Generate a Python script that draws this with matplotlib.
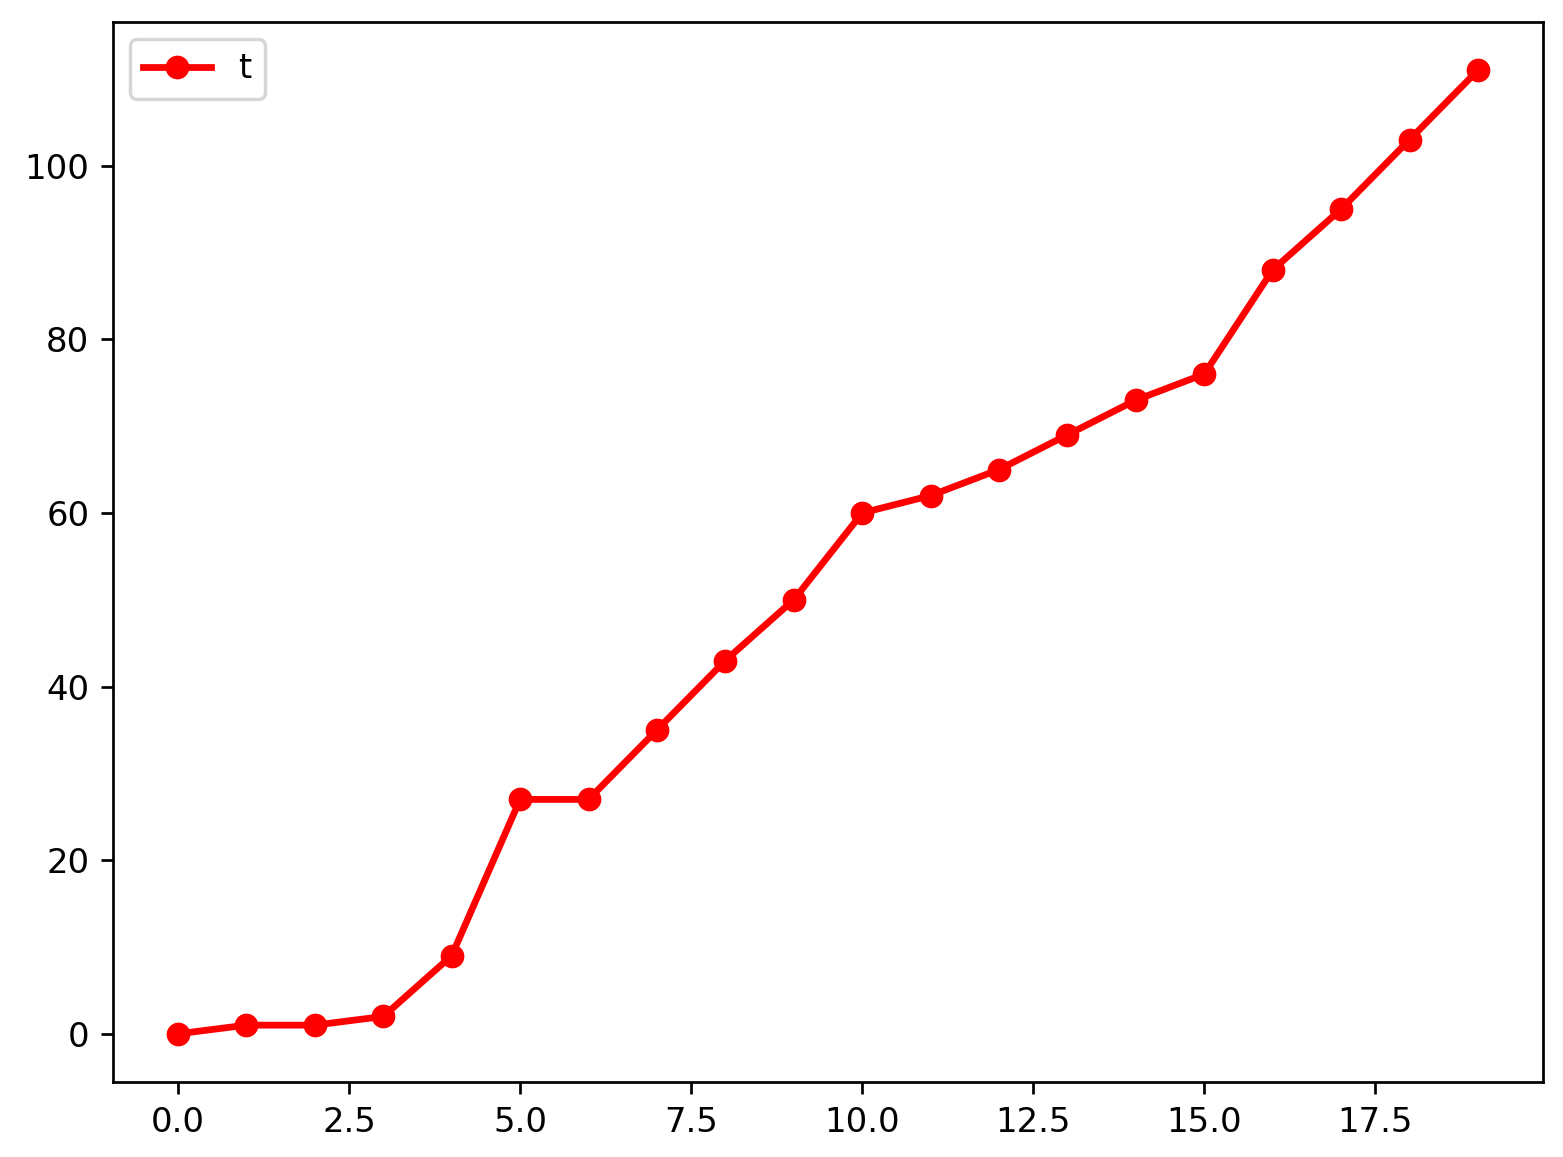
import matplotlib
matplotlib.use('Agg')
import matplotlib.pyplot as plt

x_vals = list(range(20))
t_vals = [0, 1, 1, 2, 9, 27, 27, 35, 43, 50, 60, 62, 65, 69, 73, 76, 88, 95, 103, 111]

fig = plt.figure(figsize=(1563 / 244, 1157 / 244), dpi=244)
ax = fig.add_axes([113 / 1563, 1 - 1082 / 1157, (1543 - 113) / 1563, (1082 - 22) / 1157])
ax.plot(x_vals, t_vals, color='red', marker='o', linewidth=2, label='t')
ax.legend(loc='upper left')
fig.savefig('out.png', dpi=244)
